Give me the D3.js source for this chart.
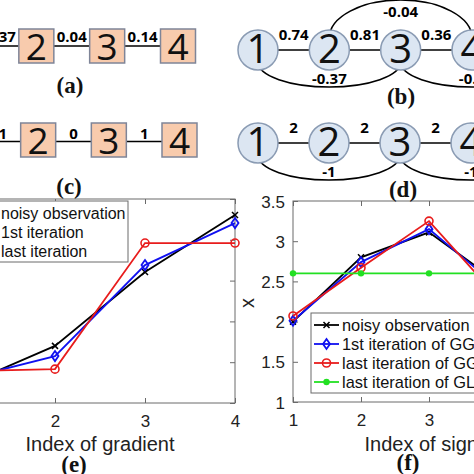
<!DOCTYPE html>
<html><head><meta charset="utf-8">
<script src="https://cdn.jsdelivr.net/npm/d3@7"></script>
<style>body{margin:0;background:#fff}svg{display:block}</style>
</head><body>
<svg id="c" width="474" height="474"></svg>
<script>
// ---------- data ----------
const chainNodes = [1, 2, 3, 4];
const chainWeightsA = ["0.37", "0.04", "0.14"];
const chainWeightsC = ["1", "0", "1"];

const graphNodes = [1, 2, 3, 4];
const adjWeightsB = ["0.74", "0.81", "0.36"];
const arcFromB = [2, 1, 3];
const arcToB = [4, 3, 5];
const arcWeightB = ["-0.04", "-0.37", "-0.3"];
const adjWeightsD = ["2", "2", "2"];
const arcFromD = [1, 3];
const arcToD = [3, 5];
const arcWeightD = ["-1", "-1"];

const gradIndex = [1, 2, 3, 4];
const eNoisy = [0.44, 1.40, 3.21, 4.61];
const eFirst = [0.59, 1.15, 3.38, 4.41];
const eLast = [0.78, 0.83, 3.92, 3.92];
const eYTicks = [0, 1, 2, 3, 4, 5];
const eXTicks = [1, 2, 3, 4];
const eLegend = ["noisy observation", "1st iteration", "last iteration"];

const signalIndex = [1, 2, 3, 4];
const fNoisy = [2.00, 2.80, 3.11, 2.50];
const fFirst = [2.01, 2.74, 3.15, 2.44];
const fLast = [2.07, 2.67, 3.25, 2.31];
const fGL = [2.6, 2.6, 2.6, 2.6];
const fYTicks = [1, 1.5, 2, 2.5, 3, 3.5];
const fXTicks = [1, 2, 3, 4, 5];
const fLegend = ["noisy observation", "1st iteration of GGL", "last iteration of GGL", "last iteration of GL"];

const panelLabels = ["(a)", "(b)", "(c)", "(d)", "(e)", "(f)"];

// ---------- styles ----------
const BOX_FILL = "#f8cbad", BOX_STROKE = "#7f8598";
const CIRC_FILL = "#dce6f2", CIRC_STROKE = "#8a9bb3";
const C_BLACK = "#000", C_BLUE = "#1010f0", C_RED = "#e81c1c", C_GREEN = "#22e022";
const svg = d3.select("#c");

// ---------- chain diagrams (a), (c) ----------
function chain(x, cy, lineY, labelY, weights) {
  const g = svg.append("g");
  g.selectAll("line.e").data(weights).join("line")
    .attr("x1", (d, i) => x(chainNodes[i])).attr("x2", (d, i) => x(chainNodes[i + 1]))
    .attr("y1", lineY).attr("y2", lineY).attr("stroke", "#000").attr("stroke-width", 1.6);
  g.selectAll("text.w").data(weights).join("text")
    .attr("x", (d, i) => (x(chainNodes[i]) + x(chainNodes[i + 1])) / 2)
    .attr("y", labelY).attr("text-anchor", "middle")
    .attr("font-family", "Open Sans").attr("font-weight", 700).attr("font-size", 15)
    .text(d => d);
  g.selectAll("rect").data(chainNodes).join("rect")
    .attr("x", d => x(d) - 17.5).attr("y", cy - 17).attr("width", 35).attr("height", 34)
    .attr("fill", BOX_FILL).attr("stroke", BOX_STROKE).attr("stroke-width", 1.5);
  g.selectAll("text.n").data(chainNodes).join("text")
    .attr("x", d => x(d)).attr("y", cy + 13.5).attr("text-anchor", "middle")
    .attr("font-family", "Open Sans").attr("font-size", 37).attr("fill", "#111")
    .text(d => d);
}
chain(d3.scaleLinear().domain([1, 4]).range([-34.5, 178]), 46, 46, 41.5, chainWeightsA);
chain(d3.scaleLinear().domain([1, 4]).range([-32.5, 179.5]), 140, 141.5, 138.5, chainWeightsC);

// ---------- graph diagrams (b), (d) ----------
function graph(x, cy, adj, aFrom, aTo, aW, hasTop, topRy, botRy) {
  const g = svg.append("g");
  const pad = 12;
  aFrom.forEach((f, i) => {
    const t = aTo[i];
    const x1 = x(f), x2 = x(t), rx = (x2 - x1) / 2, cx = (x1 + x2) / 2;
    const isTop = hasTop && i === 0;
    const ry = isTop ? topRy : botRy;
    const yc = isTop ? cy - pad : cy + pad;
    const sweep = isTop ? 1 : 0;
    g.append("path")
      .attr("d", `M${x1},${yc} A${rx},${ry} 0 0 ${sweep} ${x2},${yc}`)
      .attr("fill", "none").attr("stroke", "#000").attr("stroke-width", 1.6);
    g.append("text")
      .attr("x", cx).attr("y", isTop ? yc - ry + 17 : yc + ry - 3)
      .attr("text-anchor", "middle").attr("font-family", "Open Sans")
      .attr("font-weight", 700).attr("font-size", 15).text(aW[i]);
  });
  g.selectAll("line.e").data(adj).join("line")
    .attr("x1", (d, i) => x(graphNodes[i])).attr("x2", (d, i) => x(graphNodes[i + 1]))
    .attr("y1", cy).attr("y2", cy).attr("stroke", "#000").attr("stroke-width", 1.6);
  g.selectAll("text.w").data(adj).join("text")
    .attr("x", (d, i) => (x(graphNodes[i]) + x(graphNodes[i + 1])) / 2)
    .attr("y", cy - 10).attr("text-anchor", "middle")
    .attr("font-family", "Open Sans").attr("font-weight", 700).attr("font-size", 15)
    .text(d => d);
  g.selectAll("circle").data(graphNodes).join("circle")
    .attr("cx", d => x(d)).attr("cy", cy).attr("r", 20)
    .attr("fill", CIRC_FILL).attr("stroke", CIRC_STROKE).attr("stroke-width", 1.5);
  g.selectAll("text.n").data(graphNodes).join("text")
    .attr("x", d => x(d)).attr("y", cy + 13).attr("text-anchor", "middle")
    .attr("font-family", "Open Sans").attr("font-size", 40).attr("fill", "#111")
    .text(d => d);
}
graph(d3.scaleLinear().domain([1, 4]).range([258, 472]), 50, adjWeightsB, arcFromB, arcToB, arcWeightB, true, 38, 25);
graph(d3.scaleLinear().domain([1, 4]).range([258, 471]), 143, adjWeightsD, arcFromD, arcToD, arcWeightD, false, 38, 25);

// ---------- plots ----------
function frame(x, y, xt, yt, showX, showY, yfmt) {
  const g = svg.append("g");
  const [x0, x1] = x.range(), [y0, y1] = y.range();
  g.append("rect").attr("x", x0).attr("y", y1).attr("width", x1 - x0).attr("height", y0 - y1)
    .attr("fill", "#fff").attr("stroke", "#6a6a6a").attr("stroke-width", 1);
  const ax = (gen, tx, ty, lab) => {
    const a = g.append("g").attr("transform", `translate(${tx},${ty})`)
      .call(gen.tickSizeInner(-5).tickSizeOuter(0).tickPadding(lab ? 12 : 0));
    a.select(".domain").remove();
    a.selectAll("line").attr("stroke", "#6a6a6a");
    a.selectAll("text").attr("font-family", "Liberation Sans").attr("font-size", 17).attr("fill", "#222");
    if (!lab) a.selectAll("text").remove();
    return a;
  };
  ax(d3.axisBottom(x).tickValues(xt).tickFormat(d3.format("d")), 0, y0, showX);
  ax(d3.axisTop(x).tickValues(xt), 0, y1, false);
  const yl = ax(d3.axisLeft(y).tickValues(yt).tickFormat(yfmt), x0, 0, showY);
  if (showY) yl.selectAll("text").attr("dx", 4).attr("dy", "0.36em");
  ax(d3.axisRight(y).tickValues(yt), x1, 0, false);
  return g;
}
function series(g, x, y, xs, vs, color, marker) {
  const line = d3.line().x((d, i) => x(xs[i])).y(d => y(d));
  g.append("path").datum(vs).attr("d", line).attr("fill", "none")
    .attr("stroke", color).attr("stroke-width", 1.8);
  vs.forEach((v, i) => drawMarker(g, x(xs[i]), y(v), color, marker));
}
function drawMarker(g, px, py, color, marker) {
  if (marker === "x") {
    g.append("path").attr("d", `M${px - 3},${py - 3}L${px + 3},${py + 3}M${px - 3},${py + 3}L${px + 3},${py - 3}`)
      .attr("stroke", color).attr("stroke-width", 1.5);
  } else if (marker === "d") {
    g.append("path").attr("d", `M${px},${py - 5}L${px + 3.5},${py}L${px},${py + 5}L${px - 3.5},${py}Z`)
      .attr("fill", "none").attr("stroke", color).attr("stroke-width", 1.8);
  } else if (marker === "o") {
    g.append("circle").attr("cx", px).attr("cy", py).attr("r", 4)
      .attr("fill", "none").attr("stroke", color).attr("stroke-width", 1.6);
  } else if (marker === ".") {
    g.append("circle").attr("cx", px).attr("cy", py).attr("r", 3.2).attr("fill", color);
  }
}
function legend(bx, by, bw, rowH, labels, colors, markers, textX, fs) {
  const g = svg.append("g");
  g.append("rect").attr("x", bx).attr("y", by).attr("width", bw).attr("height", rowH * labels.length + 4)
    .attr("fill", "#fff").attr("stroke", "#6a6a6a").attr("stroke-width", 1);
  labels.forEach((l, i) => {
    const cy = by + 12 + i * rowH;
    g.append("line").attr("x1", textX - 28).attr("x2", textX - 3).attr("y1", cy).attr("y2", cy)
      .attr("stroke", colors[i]).attr("stroke-width", 1.8);
    drawMarker(g, textX - 15.5, cy, colors[i], markers[i]);
    g.append("text").attr("x", textX).attr("y", cy + 6).attr("font-family", "Liberation Sans")
      .attr("font-size", fs).attr("fill", "#111").text(l);
  });
}

// (e)
const xE = d3.scaleLinear().domain([1, 4]).range([-35, 235]);
const yE = d3.scaleLinear().domain([0, 5]).range([403, 199]);
const gE = frame(xE, yE, eXTicks, eYTicks, true, false, d3.format("d"));
series(gE, xE, yE, gradIndex, eNoisy, C_BLACK, "x");
series(gE, xE, yE, gradIndex, eFirst, C_BLUE, "d");
series(gE, xE, yE, gradIndex, eLast, C_RED, "o");
legend(-40, 201, 168, 19, eLegend, [C_BLACK, C_BLUE, C_RED], ["x", "d", "o"], 1, 16);
svg.append("text").attr("x", 100).attr("y", 451).attr("text-anchor", "middle")
  .attr("font-family", "Liberation Sans").attr("font-size", 20).attr("fill", "#222").text("Index of gradient");

// (f)
const xF = d3.scaleLinear().domain([1, 5]).range([293, 565]);
const yF = d3.scaleLinear().domain([1, 3.5]).range([402, 201]);
const gF = frame(xF, yF, fXTicks, fYTicks, true, true, d3.format("~g"));
series(gF, xF, yF, signalIndex, fNoisy, C_BLACK, "x");
series(gF, xF, yF, signalIndex, fFirst, C_BLUE, "d");
series(gF, xF, yF, signalIndex, fLast, C_RED, "o");
series(gF, xF, yF, signalIndex, fGL, C_GREEN, ".");
legend(311, 313, 200, 19, fLegend, [C_BLACK, C_BLUE, C_RED, C_GREEN], ["x", "d", "o", "."], 342, 16.4);
svg.append("text").attr("x", 429).attr("y", 451).attr("text-anchor", "middle")
  .attr("font-family", "Liberation Sans").attr("font-size", 20).attr("fill", "#222").text("Index of signal");
svg.append("text").attr("transform", "translate(254,303) rotate(-90)").attr("text-anchor", "middle")
  .attr("font-family", "Liberation Sans").attr("font-size", 20).attr("fill", "#222").text("x");

// panel labels
const labelPos = [[70, 93], [401, 104], [69, 194], [403, 197], [74, 472], [408, 470]];
svg.selectAll("text.pl").data(panelLabels).join("text")
  .attr("x", (d, i) => labelPos[i][0]).attr("y", (d, i) => labelPos[i][1])
  .attr("text-anchor", "middle").attr("font-family", "Liberation Serif")
  .attr("font-weight", 700).attr("font-size", 23).attr("fill", "#111").text(d => d);
</script>
</body></html>
